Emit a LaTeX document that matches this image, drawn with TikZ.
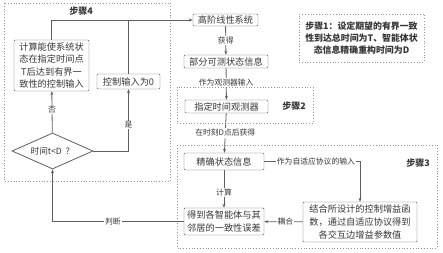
\documentclass[tikz,border=0pt]{standalone}
\usepackage{fontspec}
\setmainfont{Noto Sans CJK SC}
\usepackage{tikz}
\usetikzlibrary{shapes.geometric,arrows.meta}
\definecolor{flowgray}{RGB}{95,95,95}
\definecolor{stepgray}{RGB}{150,150,150}
\definecolor{textgray}{RGB}{55,55,55}

\begin{document}
\begin{tikzpicture}[x=1pt, y=-1pt, >={Stealth[length=4pt,width=3pt]},
        box/.style={draw=flowgray, rectangle, rounded corners=1pt, fill=white, text=textgray, align=center, inner sep=0pt, font=\fontsize{9.2}{12.6}\selectfont},
        stepframe/.style={draw=stepgray, dotted, thick},
        steplabel/.style={text=textgray, font=\fontsize{9}{11}\selectfont\bfseries},
        lbl/.style={fill=white, text=textgray, inner sep=1pt, font=\fontsize{7.8}{9}\selectfont},
        flow/.style={draw=flowgray, thick}]
        \useasboundingbox (0,0) rectangle (443,252);
        % dotted step frames
        \draw[stepframe] (4,3) rectangle (170,181);
        \draw[stepframe] (177,87) rectangle (313,123);
        \draw[stepframe] (177,145) rectangle (437,248);
        \node[steplabel] (s4) at (81,11) {步骤4};
        \node[steplabel] (s2) at (294,106) {步骤2};
        \node[steplabel] (s3) at (418,163) {步骤3};
        \node[stepframe, steplabel, minimum width=125pt, minimum height=48pt, align=center, inner sep=0pt, font=\fontsize{8.9}{12}\selectfont\bfseries] (s1) at (361.5,38) {步骤1：设定期望的有界一致\\性到达总时间为T、智能体状\\态信息精确重构时间为D};
        % boxes
        \node[box, minimum width=75pt, minimum height=51pt] (calc) at (51.5,65.5) {计算能使系统状\\态在指定时间点\\T后达到有界一\\致性的控制输入};
        \node[box, minimum width=63pt, minimum height=15pt] (zero) at (128.5,81.5) {控制输入为0};
        \node[draw=flowgray, thick, diamond, aspect=2.25, fill=white, text=textgray, inner sep=0pt, minimum width=81pt, minimum height=36pt, font=\fontsize{8.6}{10}\selectfont] (judge) at (52.5,151) {时间t<D\ \ ？};
        \node[box, minimum width=65pt, minimum height=12pt] (hsys) at (225.5,20) {高阶线性系统};
        \node[box, minimum width=84pt, minimum height=13pt] (part) at (226,61.5) {部分可测状态信息};
        \node[box, minimum width=83pt, minimum height=13pt] (obs) at (226.5,106.5) {指定时间观测器};
        \node[box, minimum width=80pt, minimum height=17pt] (exact) at (224,161.5) {精确状态信息};
        \node[box, minimum width=80pt, minimum height=27pt] (err) at (224,221.5) {得到各智能体与其\\邻居的一致性误差};
        \node[box, minimum width=114pt, minimum height=40pt] (adapt) at (360,222) {结合所设计的控制增益函\\数，通过自适应协议得到\\各交互边增益参数值};
        % connectors
        \draw[flow, ->] (calc.north) |- (hsys.west);
        \draw[flow] (zero.north) -- (zero.north |- hsys.west);
        \draw[flow, ->] (hsys) -- node[lbl] {获得} (part);
        \draw[flow, ->] (part) -- node[lbl, pos=0.45] {作为观测器输入} (obs);
        \draw[flow, ->] (obs) -- node[lbl, pos=0.5] {在时刻D点后获得} (exact);
        \draw[flow, ->] (exact) -- node[lbl, pos=0.6] {计算} (err);
        \draw[flow, ->] (exact.east) -| node[lbl, pos=0.27] {作为自适应协议的输入} (adapt.north);
        \draw[flow, ->] (adapt) -- node[lbl, pos=0.45] {耦合} (err);
        \draw[flow, ->] (err.west) -| node[lbl, pos=0.27] {判断} (judge.south);
        \draw[flow, ->] (judge) -- node[lbl, pos=0.55] {否} (calc);
        \draw[flow, ->] (judge.east) -| node[lbl, pos=0.71] {是} (zero.south);
\end{tikzpicture}
\end{document}
